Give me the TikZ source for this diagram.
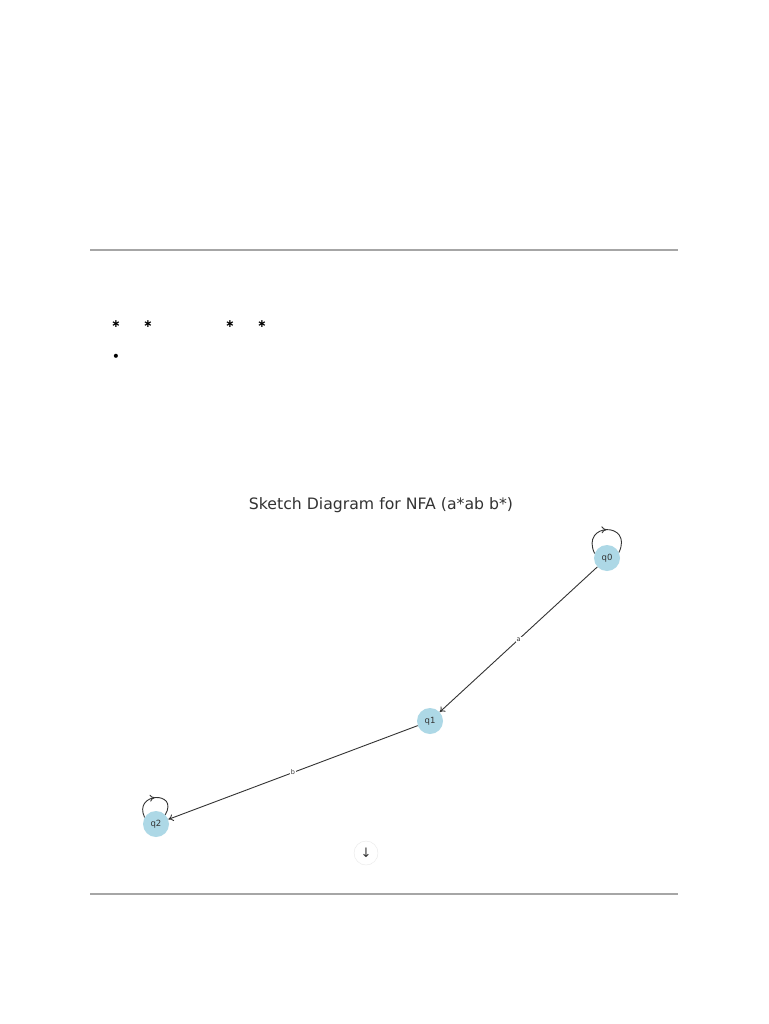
\documentclass[tikz,border=0pt]{standalone}
\usepackage{fontspec}
\setmainfont{DejaVu Sans}
\usetikzlibrary{arrows.meta,decorations.markings}
\definecolor{statefill}{HTML}{ADD8E6}
\definecolor{inkgray}{HTML}{333333}
\definecolor{rulegray}{HTML}{A6A6A6}
\definecolor{buttongray}{HTML}{E8E8E8}
\tikzset{
    nfa-state/.style = {circle, fill=statefill, minimum size=26pt, inner sep=0pt, font=\fontsize{8.5}{9}\selectfont, text=inkgray},
    trans/.style = {draw=inkgray, line width=0.9pt, -{To[length=5pt,width=7pt]}},
    trans-label/.style = {fill=white, inner sep=1pt, font=\fontsize{6.5}{7}\selectfont, text=inkgray},
    self-loop/.style = {draw=inkgray, line width=0.9pt, postaction=decorate,
        decoration={markings, mark=at position 0.5 with {\arrow{To[length=5pt,width=7pt]}}}},
    page-rule/.style = {draw=rulegray, line width=2pt},
    list-mark/.style = {font=\fontsize{11}{11}\selectfont\bfseries, inner sep=0pt},
}

\begin{document}
\begin{tikzpicture}[x=1pt,y=-1pt]
\useasboundingbox[fill=white] (0,0) rectangle (768,1024);

% rules
\coordinate (rule1-l) at (90,250);
\coordinate (rule1-r) at (678,250);
\coordinate (rule2-l) at (90,894);
\coordinate (rule2-r) at (678,894);
\draw[page-rule] (rule1-l) -- (rule1-r);
\draw[page-rule] (rule2-l) -- (rule2-r);

% list marks
\node[list-mark] (star1) at (116,324) {∗};
\node[list-mark] (star2) at (148,324) {∗};
\node[list-mark] (star3) at (230,324) {∗};
\node[list-mark] (star4) at (262,324) {∗};
\node[list-mark, font=\fontsize{14}{14}\selectfont] (dot1) at (116,358) {•};

% title
\node[font=\fontsize{15.7}{17}\selectfont, text=inkgray] (title) at (381,505) {Sketch Diagram for NFA (a*ab b*)};

% states
\node[nfa-state] (q0) at (607,558) {q0};
\node[nfa-state] (q1) at (430,721) {q1};
\node[nfa-state] (q2) at (156,824) {q2};

% transitions
\draw[trans] (q0) -- node[trans-label] (lab-a) {a} (q1);
\draw[trans] (q1) -- node[trans-label] (lab-b) {b} (q2);
\draw[self-loop] (q0.160) to[out=115,in=65,looseness=3.6] (q0.25);
\draw[self-loop] (q2.150) to[out=115,in=60,looseness=3.4] (q2.45);

% scroll button
\node[circle, draw=buttongray, fill=white, minimum size=24pt, inner sep=0pt, text=inkgray, font=\fontsize{13}{13}\selectfont] (scroll) at (366,853) {↓};
\end{tikzpicture}
\end{document}
